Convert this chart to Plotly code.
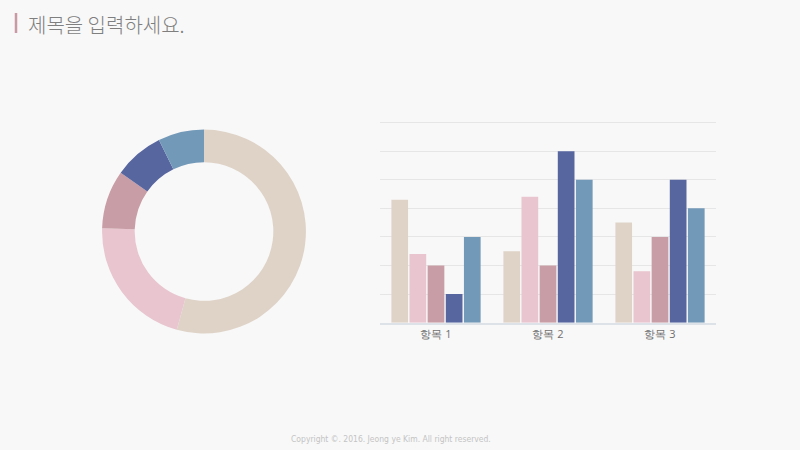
import plotly.graph_objects as go

# 도넛 데이터
pie_labels = ["항목 A", "항목 B", "항목 C", "항목 D", "항목 E"]
pie_values = [8.2, 3.2, 1.4, 1.2, 1.1]

# 막대 데이터
categories = ["항목 1", "항목 2", "항목 3"]
series_names = ["계열 1", "계열 2", "계열 3", "계열 4", "계열 5"]
series_1 = [4.3, 2.5, 3.5]
series_2 = [2.4, 4.4, 1.8]
series_3 = [2.0, 2.0, 3.0]
series_4 = [1.0, 6.0, 5.0]
series_5 = [3.0, 5.0, 4.0]

colors = ["#DFD3C8", "#E8C5CF", "#C89DA5", "#5866A0", "#7399B8"]
bg = "#F8F8F8"

fig = go.Figure()

fig.add_trace(go.Pie(
    labels=pie_labels, values=pie_values, hole=0.68, sort=False,
    direction="clockwise", rotation=0, textinfo="none",
    marker=dict(colors=colors, line=dict(width=0)),
    domain=dict(x=[0.1275, 0.3825], y=[0.259, 0.712]),
    showlegend=False,
))

for name, vals, c in zip(series_names,
                         [series_1, series_2, series_3, series_4, series_5],
                         colors):
    fig.add_trace(go.Bar(x=categories, y=vals, name=name,
                         marker=dict(color=c, line=dict(width=0)),
                         showlegend=False))

fig.update_layout(
    width=800, height=450,
    margin=dict(l=0, r=0, t=0, b=0),
    paper_bgcolor=bg, plot_bgcolor=bg,
    barmode="group", bargap=0.19, bargroupgap=0.08,
    xaxis=dict(domain=[0.475, 0.895], showgrid=False, showline=True,
               linecolor="#DDE2E9", linewidth=1.5, ticks="",
               tickfont=dict(family="Open Sans", size=11, color="#6F6F6F")),
    yaxis=dict(domain=[0.283, 0.7404], range=[0, 7.2], dtick=1,
               showticklabels=False, gridcolor="#E6E6E6", gridwidth=1,
               zeroline=False),
    font=dict(family="Noto Sans CJK KR"),
    annotations=[
        dict(text="제목을 입력하세요.", x=26 / 800, y=1 - 24 / 450,
             xref="paper", yref="paper", xanchor="left", yanchor="middle",
             showarrow=False,
             font=dict(family="Noto Sans CJK KR", size=20, color="#7F7F7F",
                       weight=300)),
        dict(text="Copyright ©. 2016. Jeong ye Kim. All right reserved.",
             x=391 / 800, y=1 - 439 / 450, xref="paper", yref="paper",
             xanchor="center", yanchor="middle", showarrow=False,
             font=dict(family="DejaVu Sans Condensed", size=8.5, color="#C4C4C4")),
    ],
    shapes=[
        dict(type="line", xref="paper", yref="paper",
             x0=16 / 800, x1=16 / 800, y0=1 - 13 / 450, y1=1 - 33 / 450,
             line=dict(color="#C99AA3", width=2.5)),
    ],
)

fig.write_html("out.html", config={"displayModeBar": False},
               post_script="document.body.style.margin='0';")
